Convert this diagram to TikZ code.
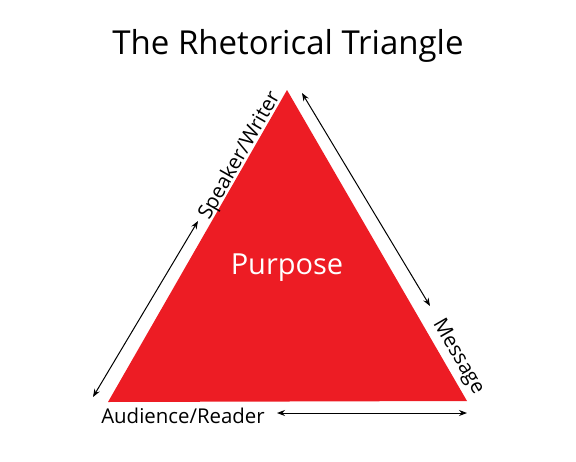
\documentclass[tikz,border=0pt]{standalone}
\usepackage{fontspec}
\setmainfont{Open Sans}
\usetikzlibrary{arrows.meta}
\definecolor{trired}{HTML}{ED1C24}
\begin{document}
\begin{tikzpicture}[x=1pt,y=-1pt,
  lbl/.style={inner sep=0pt, font=\fontsize{20.4}{22}\selectfont},
  dbl/.style={{Stealth[length=8pt,width=6pt]}-{Stealth[length=8pt,width=6pt]}, line width=1pt}]
\useasboundingbox (0,0) rectangle (576,461);
\coordinate (A) at (287,90);
\coordinate (B) at (108,402);
\coordinate (C) at (467,401);
\fill[trired] (A) -- (B) -- (C) -- cycle;
\node[inner sep=0pt, font=\fontsize{33}{36}\selectfont] (title) at (288,46) {The Rhetorical Triangle};
\node[inner sep=0pt, text=white, font=\fontsize{29}{32}\selectfont] (purpose) at (287,268) {Purpose};
\node[lbl, rotate=60.2] (speaker) at (240,156) {Speaker/Writer};
\node[lbl] (audience) at (183,416) {Audience/Reader};
\node[lbl, rotate=-60] (message) at (458,357) {Message};
\coordinate (l1) at (93,397);
\coordinate (l2) at (198,221);
\coordinate (r1) at (302,93);
\coordinate (r2) at (430,306);
\coordinate (b1) at (277,413);
\coordinate (b2) at (467,413);
\draw[dbl] (l1) -- (l2);
\draw[dbl] (r1) -- (r2);
\draw[dbl] (b1) -- (b2);
\end{tikzpicture}
\end{document}
